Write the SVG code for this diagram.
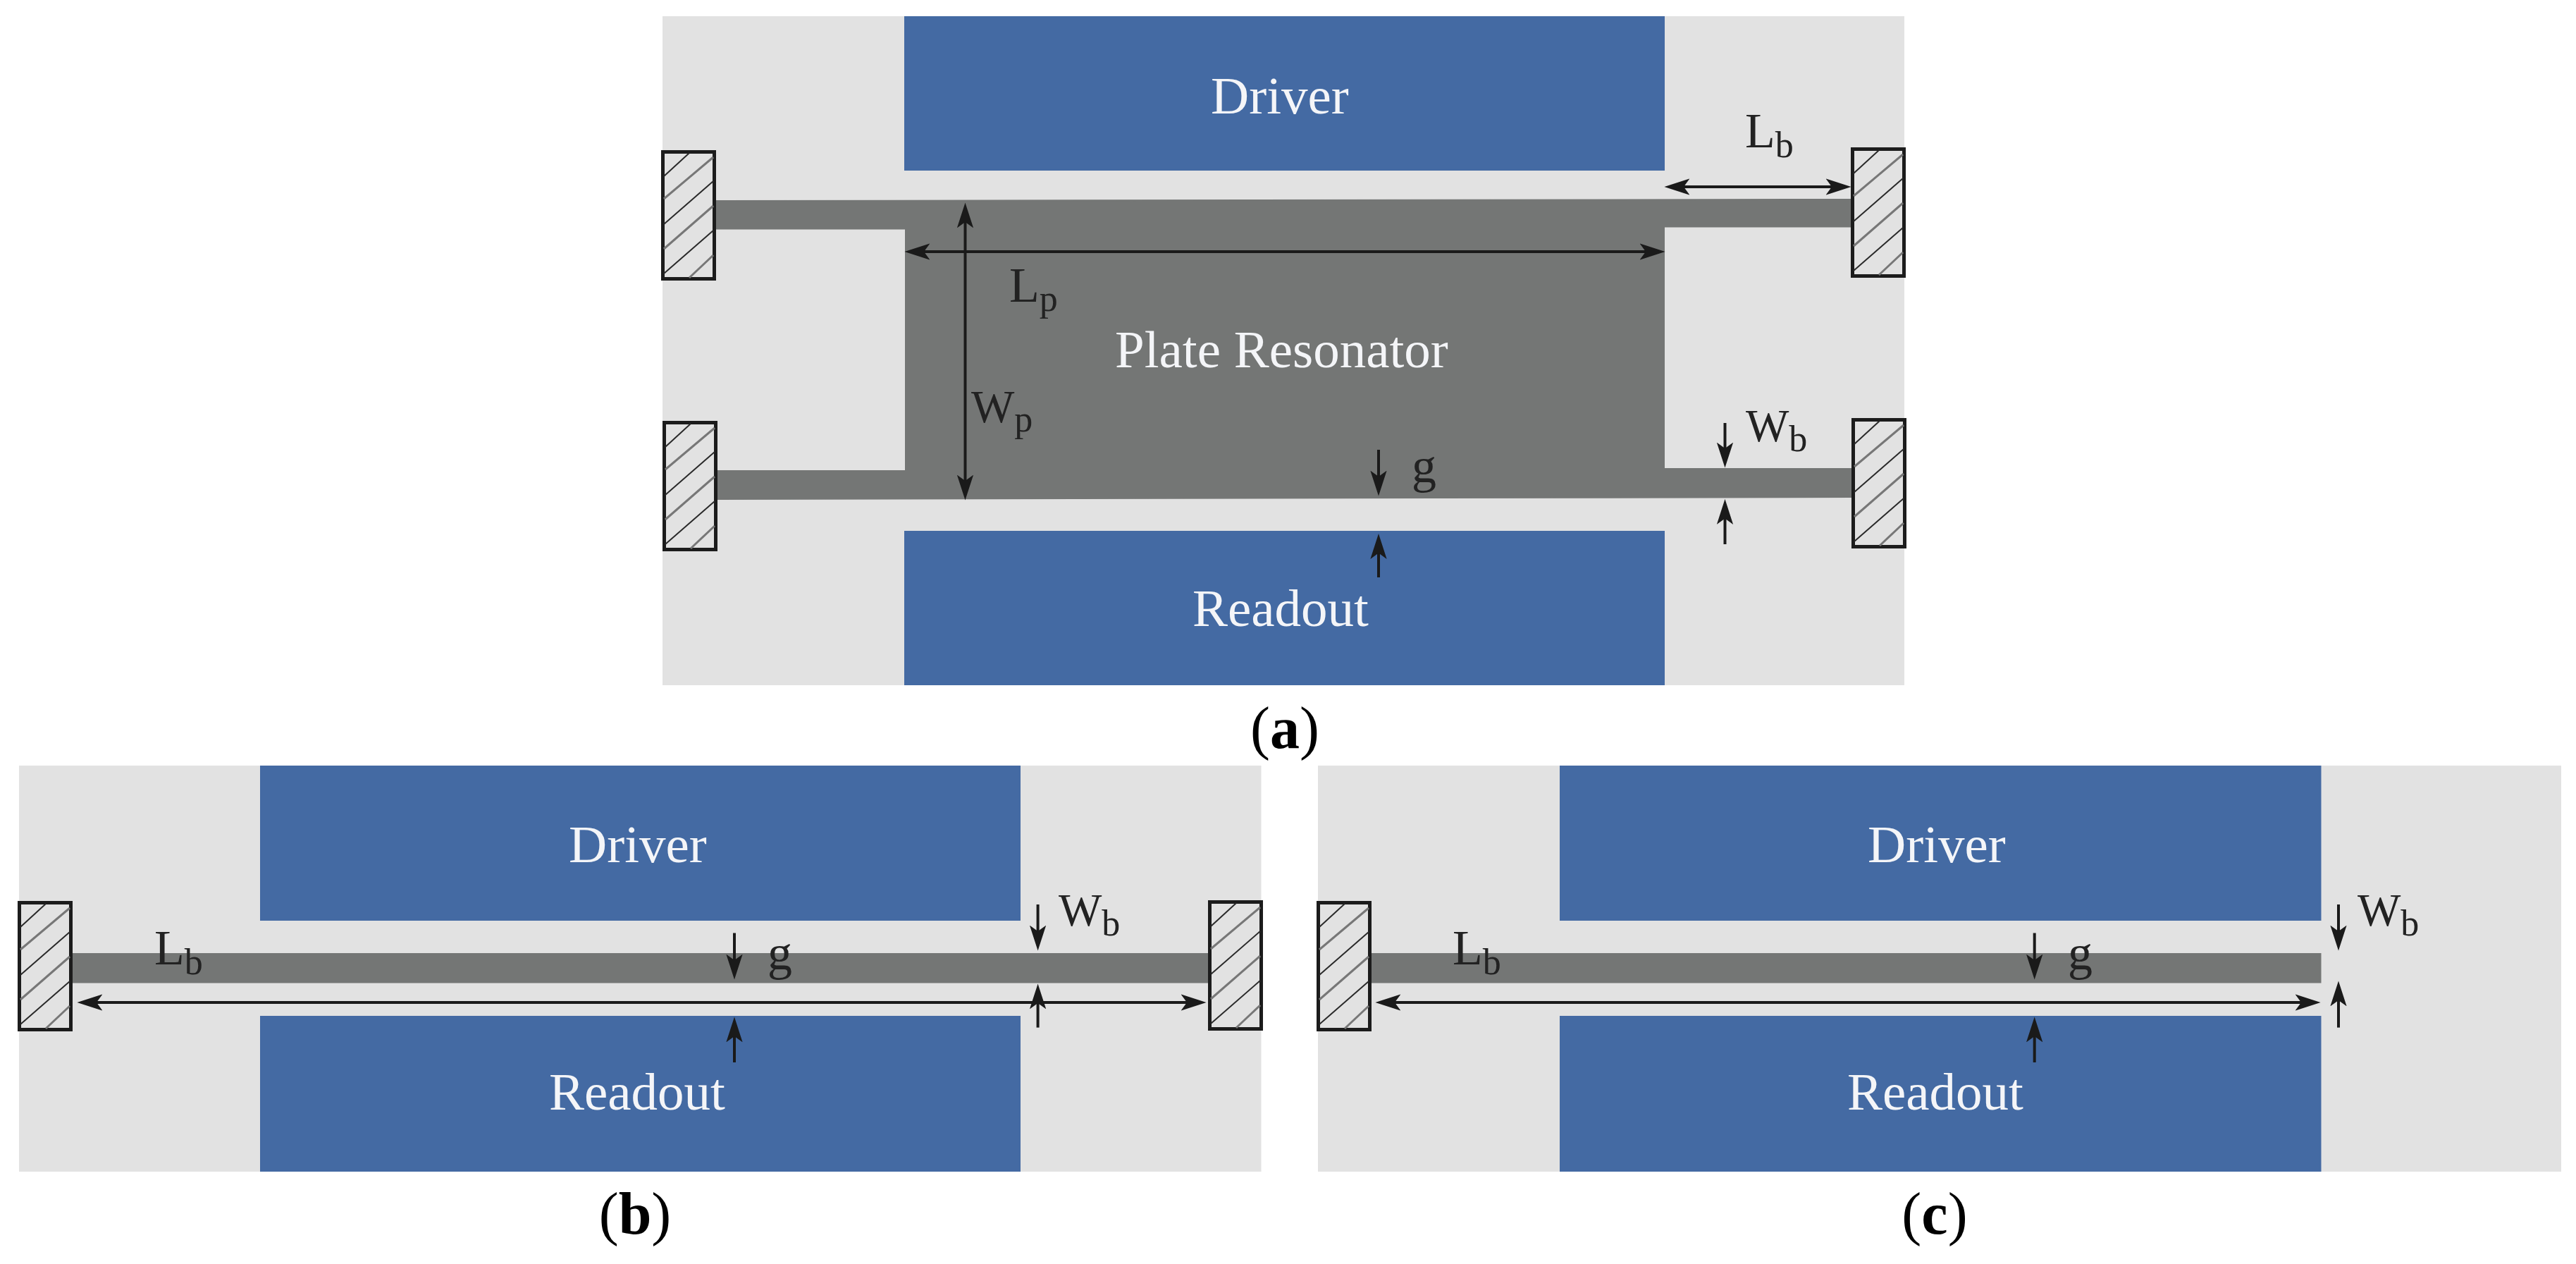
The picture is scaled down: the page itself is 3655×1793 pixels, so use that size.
<svg xmlns="http://www.w3.org/2000/svg" xmlns:xlink="http://www.w3.org/1999/xlink" width="3655" height="1793" viewBox="0 0 3655 1793">
<style>
text{font-family:"Liberation Serif","Times New Roman",serif}
.bg{fill:#e2e2e2}
.el{fill:#446aa3}
.st{fill:#747675}
.nl{font-size:75px;fill:#f4f5f8}
.dl{font-size:70px;fill:#222}
.dw{font-size:65px;fill:#222}
.sub{font-size:52px}
.cap{font-size:84px;fill:#000}
.cap tspan{font-weight:bold}
.ar{fill:none;stroke:#1a1a1a;stroke-width:4;marker-end:url(#ah)}
.ar2{fill:none;stroke:#1a1a1a;stroke-width:4;marker-start:url(#ah);marker-end:url(#ah)}
.box{fill:#e2e2e2;stroke:#1c1c1c;stroke-width:5}
.ht{fill:none;stroke:#2a2a2a;stroke-width:2}
.hg{fill:none;stroke:#777;stroke-width:3}
</style>
<defs>
<marker id="ah" markerUnits="userSpaceOnUse" markerWidth="36" markerHeight="24" viewBox="0 0 34 22" refX="24" refY="11" orient="auto-start-reverse"><path d="M34,11 L0,0 L8,11 L0,22 Z" fill="#1a1a1a"/></marker>
<g id="anchor">
<rect class="box" x="2.500" y="2.500" width="73" height="180"/>
<path class="ht" d="M4,37 L40,4 M4,105 L74,44 M4,175 L74,114"/>
<path class="hg" d="M4,69 L74,10 M4,140 L74,79 M40,181 L74,149"/>
</g>
</defs>
<rect width="3655" height="1793" fill="#ffffff"/>

<g id="panel-a">
<rect class="bg" x="940" y="23" width="1762" height="949"/>
<g id="a-driver"><rect class="el" x="1283" y="23" width="1079" height="219"/><text class="nl" x="1718" y="161">Driver</text></g>
<g id="a-readout"><rect class="el" x="1283" y="753" width="1079" height="219"/><text class="nl" x="1692" y="888">Readout</text></g>
<g id="a-plate"><polygon class="st" points="1016,284 2628,282 2628,322.500 2362,322.500 2362,664 2628,664 2628,706 1016,709 1016,667 1284,667 1284,325.500 1016,325.500"/><text class="nl" x="1582" y="521">Plate Resonator</text></g>
<g id="a-anchor-tl"><use xlink:href="#anchor" href="#anchor" x="938" y="213"/></g>
<g id="a-anchor-bl"><use xlink:href="#anchor" href="#anchor" x="940" y="597"/></g>
<g id="a-anchor-tr"><use xlink:href="#anchor" href="#anchor" x="2626" y="209"/></g>
<g id="a-anchor-br"><use xlink:href="#anchor" href="#anchor" x="2627" y="593"/></g>
</g>

<g id="panel-b">
<rect class="bg" x="27" y="1086" width="1762.500" height="576"/>
<g id="b-driver"><rect class="el" x="369" y="1086" width="1079" height="220"/><text class="nl" x="807" y="1223">Driver</text></g>
<g id="b-readout"><rect class="el" x="369" y="1441" width="1079" height="221"/><text class="nl" x="779" y="1574">Readout</text></g>
<g id="b-beam"><rect class="st" x="100" y="1352" width="1616" height="42.500"/></g>
<g id="b-anchor-l"><use xlink:href="#anchor" href="#anchor" x="25" y="1278"/></g>
<g id="b-anchor-r"><use xlink:href="#anchor" href="#anchor" x="1714" y="1277"/></g>
</g>

<g id="panel-c">
<rect class="bg" x="1870" y="1086" width="1764" height="576"/>
<g id="c-driver"><rect class="el" x="2213" y="1086" width="1080.500" height="220"/><text class="nl" x="2650" y="1223">Driver</text></g>
<g id="c-readout"><rect class="el" x="2213" y="1441" width="1080.500" height="221"/><text class="nl" x="2621" y="1574">Readout</text></g>
<g id="c-beam"><rect class="st" x="1943" y="1352" width="1350.500" height="42.500"/></g>
<g id="c-anchor-l"><use xlink:href="#anchor" href="#anchor" x="1868" y="1278"/></g>
</g>

<g id="connectors">
<path class="ar2" d="M1369.500,298 V699"/>
<path class="ar2" d="M1294,357 H2352"/>
<path class="ar2" d="M2372,265 H2616"/>
<path class="ar" d="M1956,638 V693"/>
<path class="ar" d="M1956,819 V767.600"/>
<path class="ar" d="M2447.500,600 V653"/>
<path class="ar" d="M2447.500,772 V718.500"/>
<path class="ar2" d="M120,1422 H1701"/>
<path class="ar" d="M1472.600,1283 V1338"/>
<path class="ar" d="M1472.600,1457.600 V1406"/>
<path class="ar" d="M1042,1323.500 V1379"/>
<path class="ar" d="M1042,1507 V1453"/>
<path class="ar2" d="M1962,1422 H3282"/>
<path class="ar" d="M3318,1283 V1338"/>
<path class="ar" d="M3318,1457.600 V1402"/>
<path class="ar" d="M2886.700,1323.500 V1379"/>
<path class="ar" d="M2886.700,1507 V1453"/>
</g>

<g id="labels">
<text class="dl" x="1432" y="428">L<tspan class="sub" dy="13">p</tspan></text>
<text class="dw" x="1378" y="599">W<tspan class="sub" dy="13">p</tspan></text>
<text class="dl" x="2476" y="209">L<tspan class="sub" dy="14">b</tspan></text>
<text class="dw" x="2477" y="626">W<tspan class="sub" dy="14">b</tspan></text>
<text class="dl" x="2003" y="684">g</text>
<text class="dl" x="219" y="1368">L<tspan class="sub" dy="14">b</tspan></text>
<text class="dw" x="1502" y="1313">W<tspan class="sub" dy="14">b</tspan></text>
<text class="dl" x="1089" y="1375">g</text>
<text class="dl" x="2061" y="1368">L<tspan class="sub" dy="14">b</tspan></text>
<text class="dw" x="3345" y="1313">W<tspan class="sub" dy="14">b</tspan></text>
<text class="dl" x="2934" y="1375">g</text>
<text class="cap" x="1823" y="1061" text-anchor="middle">(<tspan>a</tspan>)</text>
<text class="cap" x="901" y="1750" text-anchor="middle">(<tspan>b</tspan>)</text>
<text class="cap" x="2745" y="1750" text-anchor="middle">(<tspan>c</tspan>)</text>
</g>
</svg>
